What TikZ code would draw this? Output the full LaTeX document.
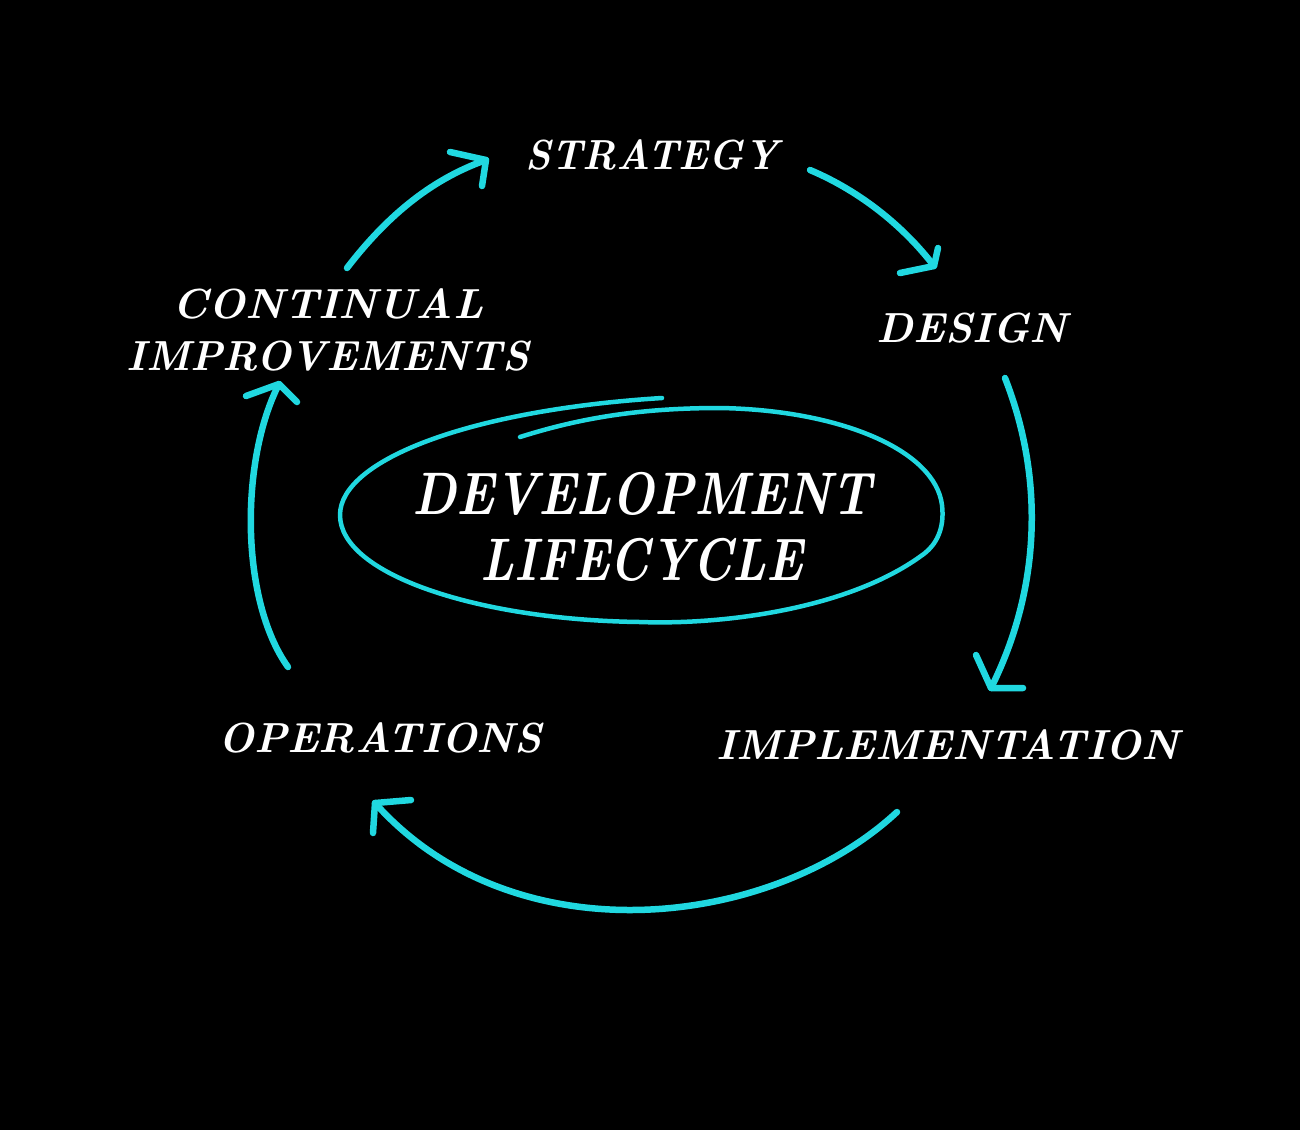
\documentclass[tikz,border=0pt]{standalone}
\usetikzlibrary{calc}
\definecolor{cyanpen}{RGB}{32,216,224}
\begin{document}
\begin{tikzpicture}[x=1pt,y=-1pt,
  lbl/.style={text=white,font=\fontsize{42}{52}\selectfont\bfseries\itshape,inner sep=0pt,align=center},
  big/.style={text=white,font=\fontsize{60}{66}\selectfont\bfseries\itshape,inner sep=0pt,align=center},
  pen/.style={draw=cyanpen,line width=6.5pt,line cap=round,line join=round},
  thinpen/.style={draw=cyanpen,line width=4.5pt,line cap=round,line join=round}]
\fill[black] (0,0) rectangle (1300,1130);
\useasboundingbox (0,0) rectangle (1300,1130);

% labels
\node[lbl] (strategy) at (652,155) {\scalebox{0.94}[1]{STRATEGY}};
\node[lbl] (design) at (972,328) {DESIGN};
\node[lbl] (impl) at (948,745) {IMPLEMENTATION};
\node[lbl] (ops) at (380,738) {OPERATIONS};
\node[lbl] (ci) at (328,330) {\scalebox{1.03}[1]{CONTINUAL}\\\scalebox{0.98}[1]{IMPROVEMENTS}};
\node[big] (dev) at (642,527) {\scalebox{0.84}[1]{DEVELOPMENT}\\\scalebox{0.81}[1]{LIFECYCLE}};

% hand-drawn ellipse round the centre (overlapping at top left)
\draw[thinpen] (520,437) .. controls (580,418) and (640,408) .. (720,408)
  .. controls (840,410) and (935,450) .. (942,505)
  .. controls (945,530) and (935,545) .. (925,553)
  .. controls (850,610) and (720,625) .. (640,622)
  .. controls (480,620) and (340,575) .. (340,515)
  .. controls (340,460) and (470,410) .. (662,398);

% arrow coordinates
\coordinate (a1s) at (347,268); \coordinate (a1t) at (486,160);
\coordinate (a1l) at (450,152); \coordinate (a1r) at (482,186);
\coordinate (a2s) at (810,170); \coordinate (a2t) at (934,266);
\coordinate (a2l) at (900,273); \coordinate (a2r) at (938,248);
\coordinate (a3s) at (1005,378); \coordinate (a3t) at (991,688);
\coordinate (a3l) at (976,655); \coordinate (a3r) at (1023,688);
\coordinate (a4s) at (897,812); \coordinate (a4t) at (375,803);
\coordinate (a4l) at (411,800); \coordinate (a4r) at (373,833);
\coordinate (a5s) at (288,667); \coordinate (a5t) at (279,384);
\coordinate (a5l) at (246,396); \coordinate (a5r) at (297,402);

% arrows
\draw[pen] (a1s) .. controls (390,212) and (435,178) .. (a1t);
\draw[pen] (a1l) -- (a1t) -- (a1r);
\draw[pen] (a2s) .. controls (862,192) and (905,228) .. (a2t);
\draw[pen] (a2l) -- (a2t) -- (a2r);
\draw[pen] (a3s) .. controls (1045,480) and (1040,590) .. (a3t);
\draw[pen] (a3l) -- (a3t) -- (a3r);
\draw[pen] (a4s) .. controls (770,930) and (513,958) .. (a4t);
\draw[pen] (a4l) -- (a4t) -- (a4r);
\draw[pen] (a5s) .. controls (240,600) and (240,460) .. (a5t);
\draw[pen] (a5l) -- (a5t) -- (a5r);
\end{tikzpicture}
\end{document}
